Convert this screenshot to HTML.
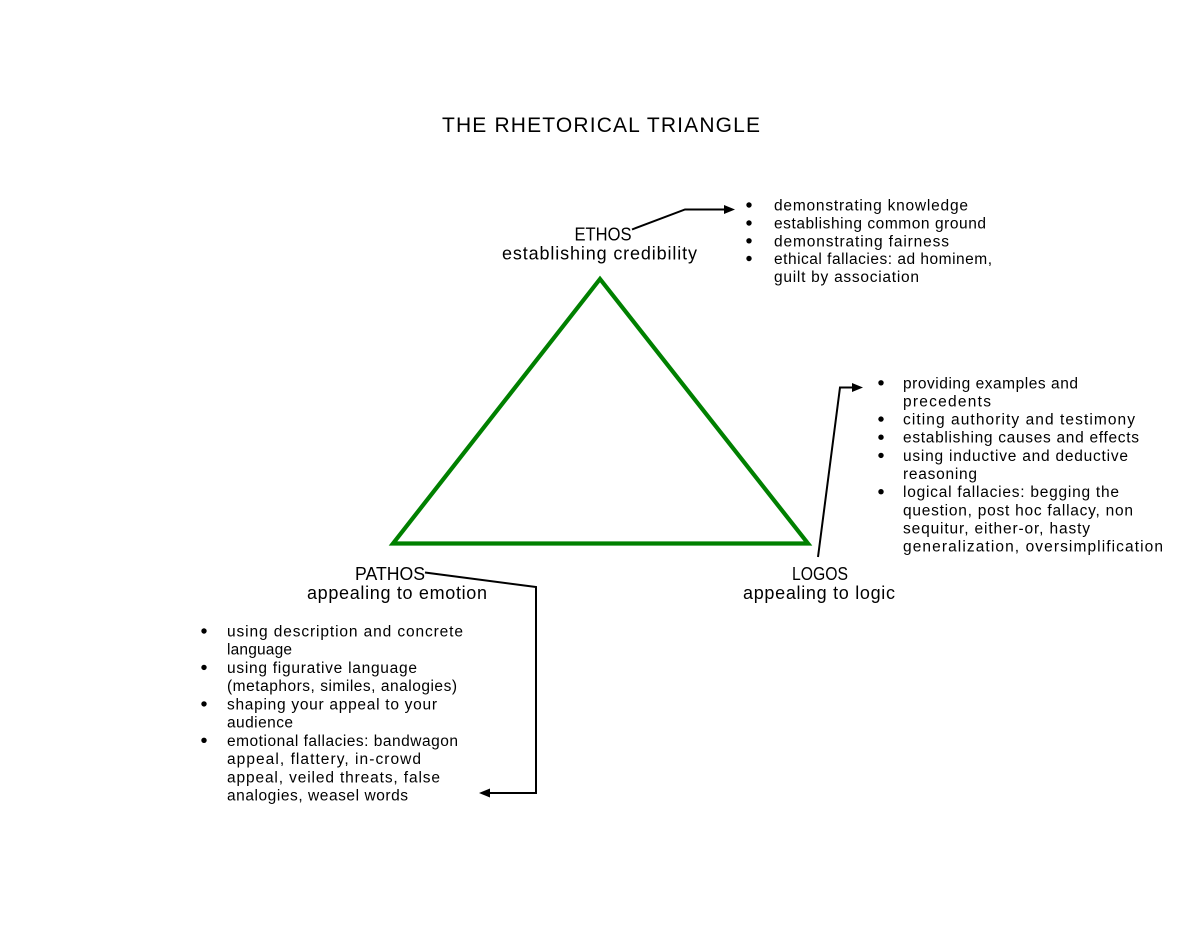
<!DOCTYPE html>
<html>
<head>
<meta charset="utf-8">
<style>
  html, body { margin: 0; padding: 0; background: #ffffff; }
  svg { display: block; }
  text { font-family: "Liberation Sans", Arial, sans-serif; fill: #000; }
  .t { font-size: 21px; }
  .lbl { font-size: 18px; }
  .b { font-size: 15.5px; }
</style>
</head>
<body>
<svg width="1200" height="927" viewBox="0 0 1200 927" xmlns="http://www.w3.org/2000/svg">
  <rect x="0" y="0" width="1200" height="927" fill="#ffffff"/>

  <!-- Title -->
  <text class="t" x="442" y="132" textLength="318" lengthAdjust="spacing">THE RHETORICAL TRIANGLE</text>

  <!-- Triangle -->
  <polygon points="600,279 393,543.5 808,543.5" fill="none" stroke="#008000" stroke-width="4.2" stroke-linejoin="miter"/>

  <!-- Labels -->
  <text class="lbl" x="574.5" y="240.5" textLength="57" lengthAdjust="spacingAndGlyphs">ETHOS</text>
  <text class="lbl" x="502" y="259.5" textLength="195" lengthAdjust="spacing">establishing credibility</text>

  <text class="lbl" x="792" y="580" textLength="56" lengthAdjust="spacingAndGlyphs">LOGOS</text>
  <text class="lbl" x="743" y="599" textLength="152" lengthAdjust="spacing">appealing to logic</text>

  <text class="lbl" x="355" y="580" textLength="70" lengthAdjust="spacingAndGlyphs">PATHOS</text>
  <text class="lbl" x="307" y="599" textLength="180" lengthAdjust="spacing">appealing to emotion</text>

  <!-- Connectors -->
  <g fill="none" stroke="#000" stroke-width="2" stroke-linejoin="miter">
    <polyline points="632,229.5 685,209.5 726,209.5"/>
    <polyline points="818,557 840,387.5 854,387.5"/>
    <polyline points="425,572.5 536,587 536,793 489,793"/>
  </g>
  <g fill="#000">
    <polygon points="735,209.5 724,205 724,214"/>
    <polygon points="863,387.5 852,383 852,392"/>
    <polygon points="479,793 490,788.5 490,797.5"/>
  </g>

  <!-- Ethos bullets -->
  <g>
    <circle cx="749" cy="205" r="2.7"/>
    <circle cx="749" cy="223" r="2.7"/>
    <circle cx="749" cy="240.8" r="2.7"/>
    <circle cx="749" cy="258.5" r="2.7"/>
    <text class="b" x="774" y="210.5" textLength="194" lengthAdjust="spacing">demonstrating knowledge</text>
    <text class="b" x="774" y="228.5" textLength="212" lengthAdjust="spacing">establishing common ground</text>
    <text class="b" x="774" y="246.3" textLength="175" lengthAdjust="spacing">demonstrating fairness</text>
    <text class="b" x="774" y="264" textLength="218" lengthAdjust="spacing">ethical fallacies: ad hominem,</text>
    <text class="b" x="774" y="282" textLength="145" lengthAdjust="spacing">guilt by association</text>
  </g>

  <!-- Logos bullets -->
  <g>
    <circle cx="881" cy="382.8" r="2.7"/>
    <circle cx="881" cy="419.1" r="2.7"/>
    <circle cx="881" cy="437.2" r="2.7"/>
    <circle cx="881" cy="455.4" r="2.7"/>
    <circle cx="881" cy="491.7" r="2.7"/>
    <text class="b" x="903" y="388.3" textLength="175" lengthAdjust="spacing">providing examples and</text>
    <text class="b" x="903" y="406.4" textLength="88" lengthAdjust="spacing">precedents</text>
    <text class="b" x="903" y="424.6" textLength="232" lengthAdjust="spacing">citing authority and testimony</text>
    <text class="b" x="903" y="442.7" textLength="236" lengthAdjust="spacing">establishing causes and effects</text>
    <text class="b" x="903" y="460.9" textLength="225" lengthAdjust="spacing">using inductive and deductive</text>
    <text class="b" x="903" y="479" textLength="74" lengthAdjust="spacing">reasoning</text>
    <text class="b" x="903" y="497.2" textLength="216" lengthAdjust="spacing">logical fallacies: begging the</text>
    <text class="b" x="903" y="515.3" textLength="230" lengthAdjust="spacing">question, post hoc fallacy, non</text>
    <text class="b" x="903" y="533.5" textLength="187" lengthAdjust="spacing">sequitur, either-or, hasty</text>
    <text class="b" x="903" y="551.6" textLength="260" lengthAdjust="spacing">generalization, oversimplification</text>
  </g>

  <!-- Pathos bullets -->
  <g>
    <circle cx="204" cy="631" r="2.7"/>
    <circle cx="204" cy="667.4" r="2.7"/>
    <circle cx="204" cy="703.9" r="2.7"/>
    <circle cx="204" cy="740.3" r="2.7"/>
    <text class="b" x="227" y="636.5" textLength="236" lengthAdjust="spacing">using description and concrete</text>
    <text class="b" x="227" y="654.7" textLength="65" lengthAdjust="spacing">language</text>
    <text class="b" x="227" y="672.9" textLength="190" lengthAdjust="spacing">using figurative language</text>
    <text class="b" x="227" y="691.2" textLength="230" lengthAdjust="spacing">(metaphors, similes, analogies)</text>
    <text class="b" x="227" y="709.4" textLength="210" lengthAdjust="spacing">shaping your appeal to your</text>
    <text class="b" x="227" y="727.6" textLength="66" lengthAdjust="spacing">audience</text>
    <text class="b" x="227" y="745.8" textLength="231" lengthAdjust="spacing">emotional fallacies: bandwagon</text>
    <text class="b" x="227" y="764" textLength="194" lengthAdjust="spacing">appeal, flattery, in-crowd</text>
    <text class="b" x="227" y="782.3" textLength="213" lengthAdjust="spacing">appeal, veiled threats, false</text>
    <text class="b" x="227" y="800.5" textLength="181" lengthAdjust="spacing">analogies, weasel words</text>
  </g>
</svg>
</body>
</html>
